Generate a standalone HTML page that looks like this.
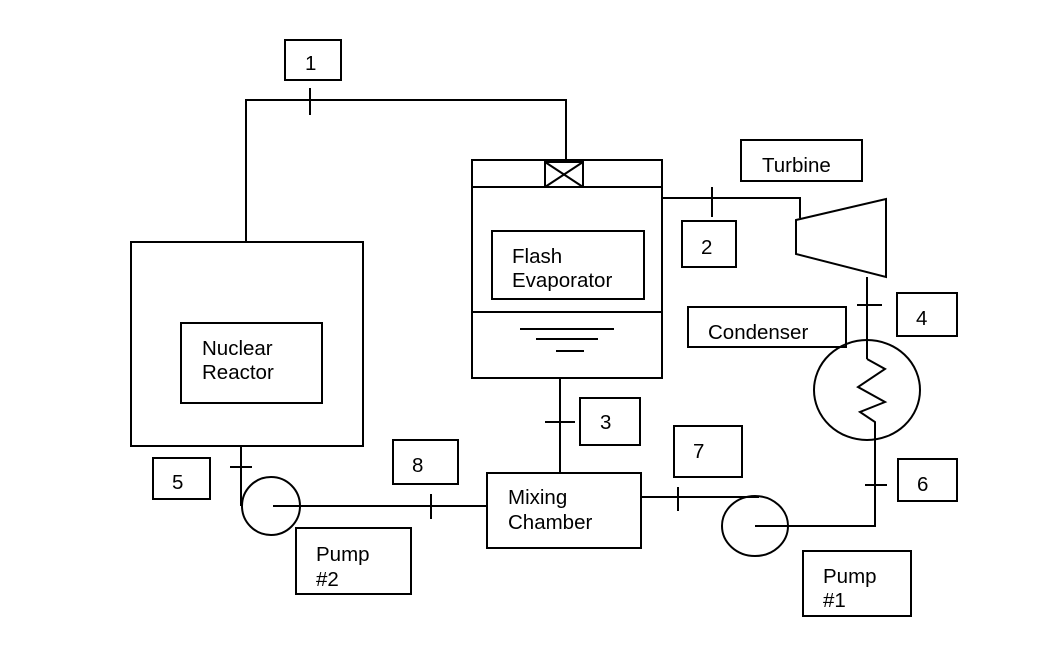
<!DOCTYPE html>
<html><head><meta charset="utf-8"><style>
html,body{margin:0;padding:0;background:#fff;}
svg{display:block;}
text{font-family:"Liberation Sans",sans-serif;font-size:20.5px;fill:#000;}
</style></head><body>
<svg width="1050" height="650" viewBox="0 0 1050 650" xmlns="http://www.w3.org/2000/svg">
<g fill="none" stroke="#000" stroke-width="2">
<rect x="285" y="40" width="56" height="40"/>
<polyline points="246,242 246,100 566,100 566,162"/>
<line x1="310" y1="88" x2="310" y2="115"/>
<rect x="472" y="160" width="190" height="218"/>
<line x1="472" y1="187" x2="662" y2="187"/>
<line x1="472" y1="312" x2="662" y2="312"/>
<rect x="545" y="162" width="38" height="25"/>
<line x1="545" y1="162" x2="583" y2="187"/>
<line x1="583" y1="162" x2="545" y2="187"/>
<rect x="492" y="231" width="152" height="68"/>
<line x1="520" y1="329" x2="614" y2="329"/>
<line x1="536" y1="339" x2="598" y2="339"/>
<line x1="556" y1="351" x2="584" y2="351"/>
<rect x="741" y="140" width="121" height="41"/>
<polyline points="662,198 800,198 800,218"/>
<line x1="712" y1="187" x2="712" y2="217"/>
<rect x="682" y="221" width="54" height="46"/>
<polygon points="796,220 886,199 886,277 796,254"/>
<line x1="867" y1="277" x2="867" y2="359"/>
<line x1="857" y1="305" x2="882" y2="305"/>
<rect x="897" y="293" width="60" height="43"/>
<rect x="688" y="307" width="158" height="40"/>
<ellipse cx="867" cy="390" rx="53" ry="50"/>
<polyline points="867,359 885,369 858,387 885,402 860,412 875,422 875,526 755,526"/>
<line x1="865" y1="485" x2="887" y2="485"/>
<rect x="898" y="459" width="59" height="42"/>
<line x1="560" y1="378" x2="560" y2="473"/>
<line x1="545" y1="422" x2="575" y2="422"/>
<rect x="580" y="398" width="60" height="47"/>
<rect x="487" y="473" width="154" height="75"/>
<rect x="674" y="426" width="68" height="51"/>
<line x1="641" y1="497" x2="759" y2="497"/>
<line x1="678" y1="487" x2="678" y2="511"/>
<ellipse cx="755" cy="526" rx="33" ry="30"/>
<rect x="803" y="551" width="108" height="65"/>
<rect x="131" y="242" width="232" height="204"/>
<rect x="181" y="323" width="141" height="80"/>
<rect x="153" y="458" width="57" height="41"/>
<line x1="241" y1="446" x2="241" y2="506"/>
<line x1="230" y1="467" x2="252" y2="467"/>
<ellipse cx="271" cy="506" rx="29" ry="29"/>
<line x1="273" y1="506" x2="487" y2="506"/>
<line x1="431" y1="494" x2="431" y2="519"/>
<rect x="393" y="440" width="65" height="44"/>
<rect x="296" y="528" width="115" height="66"/>
</g>
<text x="305" y="70">1</text>
<text x="701" y="254">2</text>
<text x="600" y="429">3</text>
<text x="916" y="325">4</text>
<text x="172" y="489">5</text>
<text x="917" y="491">6</text>
<text x="693" y="458">7</text>
<text x="412" y="472">8</text>
<text x="762" y="172">Turbine</text>
<text x="512" y="263">Flash</text>
<text x="512" y="287">Evaporator</text>
<text x="708" y="339">Condenser</text>
<text x="202" y="355">Nuclear</text>
<text x="202" y="379">Reactor</text>
<text x="508" y="504">Mixing</text>
<text x="508" y="529">Chamber</text>
<text x="316" y="561">Pump</text>
<text x="316" y="586">#2</text>
<text x="823" y="583">Pump</text>
<text x="823" y="607">#1</text>
</svg>
</body></html>
